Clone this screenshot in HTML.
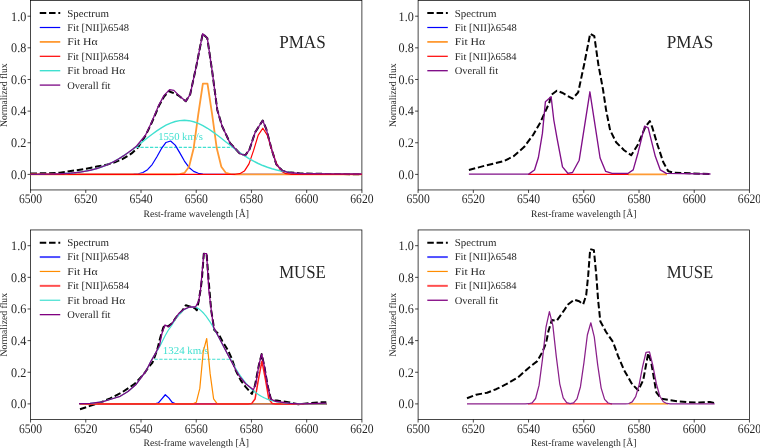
<!DOCTYPE html>
<html><head><meta charset="utf-8"><style>html,body{margin:0;padding:0;background:#fff;overflow:hidden}svg{display:block;will-change:transform;text-rendering:geometricPrecision}</style></head>
<body><svg width="760" height="448" viewBox="0 0 760 448">
<rect width="760" height="448" fill="#fff"/>
<g stroke="#000" stroke-width="0.72"><line x1="27.55" y1="174.40" x2="30.55" y2="174.40"/><line x1="27.55" y1="142.76" x2="30.55" y2="142.76"/><line x1="27.55" y1="111.12" x2="30.55" y2="111.12"/><line x1="27.55" y1="79.48" x2="30.55" y2="79.48"/><line x1="27.55" y1="47.84" x2="30.55" y2="47.84"/><line x1="27.55" y1="16.20" x2="30.55" y2="16.20"/><line x1="30.55" y1="189.95" x2="30.55" y2="192.95"/><line x1="85.78" y1="189.95" x2="85.78" y2="192.95"/><line x1="141.00" y1="189.95" x2="141.00" y2="192.95"/><line x1="196.23" y1="189.95" x2="196.23" y2="192.95"/><line x1="251.45" y1="189.95" x2="251.45" y2="192.95"/><line x1="306.68" y1="189.95" x2="306.68" y2="192.95"/><line x1="361.90" y1="189.95" x2="361.90" y2="192.95"/><rect x="30.55" y="0.40" width="331.35" height="189.55" fill="none"/></g>
<g font-family="Liberation Serif" font-size="13.0" fill="#262626"><text x="26.25" y="178.70" text-anchor="end" textLength="15.2" lengthAdjust="spacingAndGlyphs">0.0</text><text x="26.25" y="147.06" text-anchor="end" textLength="15.2" lengthAdjust="spacingAndGlyphs">0.2</text><text x="26.25" y="115.42" text-anchor="end" textLength="15.2" lengthAdjust="spacingAndGlyphs">0.4</text><text x="26.25" y="83.78" text-anchor="end" textLength="15.2" lengthAdjust="spacingAndGlyphs">0.6</text><text x="26.25" y="52.14" text-anchor="end" textLength="15.2" lengthAdjust="spacingAndGlyphs">0.8</text><text x="26.25" y="20.50" text-anchor="end" textLength="15.2" lengthAdjust="spacingAndGlyphs">1.0</text><text x="30.55" y="203.35" text-anchor="middle" textLength="23.2" lengthAdjust="spacingAndGlyphs">6500</text><text x="85.78" y="203.35" text-anchor="middle" textLength="23.2" lengthAdjust="spacingAndGlyphs">6520</text><text x="141.00" y="203.35" text-anchor="middle" textLength="23.2" lengthAdjust="spacingAndGlyphs">6540</text><text x="196.23" y="203.35" text-anchor="middle" textLength="23.2" lengthAdjust="spacingAndGlyphs">6560</text><text x="251.45" y="203.35" text-anchor="middle" textLength="23.2" lengthAdjust="spacingAndGlyphs">6580</text><text x="306.68" y="203.35" text-anchor="middle" textLength="23.2" lengthAdjust="spacingAndGlyphs">6600</text><text x="361.90" y="203.35" text-anchor="middle" textLength="23.2" lengthAdjust="spacingAndGlyphs">6620</text></g>
<text font-family="Liberation Serif" font-size="10.0" fill="#262626" x="196.23" y="216.55" text-anchor="middle" textLength="105.5" lengthAdjust="spacingAndGlyphs">Rest-frame wavelength [Å]</text>
<text font-family="Liberation Serif" font-size="10.0" fill="#262626" transform="translate(7.05,95.18) rotate(-90)" x="0" y="0" text-anchor="middle" textLength="63.5" lengthAdjust="spacingAndGlyphs">Normalized flux</text>
<g stroke="#000" stroke-width="0.72"><line x1="415.10" y1="174.40" x2="418.10" y2="174.40"/><line x1="415.10" y1="142.76" x2="418.10" y2="142.76"/><line x1="415.10" y1="111.12" x2="418.10" y2="111.12"/><line x1="415.10" y1="79.48" x2="418.10" y2="79.48"/><line x1="415.10" y1="47.84" x2="418.10" y2="47.84"/><line x1="415.10" y1="16.20" x2="418.10" y2="16.20"/><line x1="418.10" y1="189.95" x2="418.10" y2="192.95"/><line x1="473.33" y1="189.95" x2="473.33" y2="192.95"/><line x1="528.55" y1="189.95" x2="528.55" y2="192.95"/><line x1="583.78" y1="189.95" x2="583.78" y2="192.95"/><line x1="639.00" y1="189.95" x2="639.00" y2="192.95"/><line x1="694.23" y1="189.95" x2="694.23" y2="192.95"/><line x1="749.45" y1="189.95" x2="749.45" y2="192.95"/><rect x="418.10" y="0.40" width="331.35" height="189.55" fill="none"/></g>
<g font-family="Liberation Serif" font-size="13.0" fill="#262626"><text x="413.80" y="178.70" text-anchor="end" textLength="15.2" lengthAdjust="spacingAndGlyphs">0.0</text><text x="413.80" y="147.06" text-anchor="end" textLength="15.2" lengthAdjust="spacingAndGlyphs">0.2</text><text x="413.80" y="115.42" text-anchor="end" textLength="15.2" lengthAdjust="spacingAndGlyphs">0.4</text><text x="413.80" y="83.78" text-anchor="end" textLength="15.2" lengthAdjust="spacingAndGlyphs">0.6</text><text x="413.80" y="52.14" text-anchor="end" textLength="15.2" lengthAdjust="spacingAndGlyphs">0.8</text><text x="413.80" y="20.50" text-anchor="end" textLength="15.2" lengthAdjust="spacingAndGlyphs">1.0</text><text x="418.10" y="203.35" text-anchor="middle" textLength="23.2" lengthAdjust="spacingAndGlyphs">6500</text><text x="473.33" y="203.35" text-anchor="middle" textLength="23.2" lengthAdjust="spacingAndGlyphs">6520</text><text x="528.55" y="203.35" text-anchor="middle" textLength="23.2" lengthAdjust="spacingAndGlyphs">6540</text><text x="583.78" y="203.35" text-anchor="middle" textLength="23.2" lengthAdjust="spacingAndGlyphs">6560</text><text x="639.00" y="203.35" text-anchor="middle" textLength="23.2" lengthAdjust="spacingAndGlyphs">6580</text><text x="694.23" y="203.35" text-anchor="middle" textLength="23.2" lengthAdjust="spacingAndGlyphs">6600</text><text x="749.45" y="203.35" text-anchor="middle" textLength="23.2" lengthAdjust="spacingAndGlyphs">6620</text></g>
<text font-family="Liberation Serif" font-size="10.0" fill="#262626" x="583.78" y="216.55" text-anchor="middle" textLength="105.5" lengthAdjust="spacingAndGlyphs">Rest-frame wavelength [Å]</text>
<text font-family="Liberation Serif" font-size="10.0" fill="#262626" transform="translate(395.70,95.18) rotate(-90)" x="0" y="0" text-anchor="middle" textLength="63.5" lengthAdjust="spacingAndGlyphs">Normalized flux</text>
<g stroke="#000" stroke-width="0.72"><line x1="27.55" y1="403.90" x2="30.55" y2="403.90"/><line x1="27.55" y1="372.26" x2="30.55" y2="372.26"/><line x1="27.55" y1="340.62" x2="30.55" y2="340.62"/><line x1="27.55" y1="308.98" x2="30.55" y2="308.98"/><line x1="27.55" y1="277.34" x2="30.55" y2="277.34"/><line x1="27.55" y1="245.70" x2="30.55" y2="245.70"/><line x1="30.55" y1="419.50" x2="30.55" y2="422.50"/><line x1="85.78" y1="419.50" x2="85.78" y2="422.50"/><line x1="141.00" y1="419.50" x2="141.00" y2="422.50"/><line x1="196.23" y1="419.50" x2="196.23" y2="422.50"/><line x1="251.45" y1="419.50" x2="251.45" y2="422.50"/><line x1="306.68" y1="419.50" x2="306.68" y2="422.50"/><line x1="361.90" y1="419.50" x2="361.90" y2="422.50"/><rect x="30.55" y="229.95" width="331.35" height="189.55" fill="none"/></g>
<g font-family="Liberation Serif" font-size="13.0" fill="#262626"><text x="26.25" y="408.20" text-anchor="end" textLength="15.2" lengthAdjust="spacingAndGlyphs">0.0</text><text x="26.25" y="376.56" text-anchor="end" textLength="15.2" lengthAdjust="spacingAndGlyphs">0.2</text><text x="26.25" y="344.92" text-anchor="end" textLength="15.2" lengthAdjust="spacingAndGlyphs">0.4</text><text x="26.25" y="313.28" text-anchor="end" textLength="15.2" lengthAdjust="spacingAndGlyphs">0.6</text><text x="26.25" y="281.64" text-anchor="end" textLength="15.2" lengthAdjust="spacingAndGlyphs">0.8</text><text x="26.25" y="250.00" text-anchor="end" textLength="15.2" lengthAdjust="spacingAndGlyphs">1.0</text><text x="30.55" y="432.90" text-anchor="middle" textLength="23.2" lengthAdjust="spacingAndGlyphs">6500</text><text x="85.78" y="432.90" text-anchor="middle" textLength="23.2" lengthAdjust="spacingAndGlyphs">6520</text><text x="141.00" y="432.90" text-anchor="middle" textLength="23.2" lengthAdjust="spacingAndGlyphs">6540</text><text x="196.23" y="432.90" text-anchor="middle" textLength="23.2" lengthAdjust="spacingAndGlyphs">6560</text><text x="251.45" y="432.90" text-anchor="middle" textLength="23.2" lengthAdjust="spacingAndGlyphs">6580</text><text x="306.68" y="432.90" text-anchor="middle" textLength="23.2" lengthAdjust="spacingAndGlyphs">6600</text><text x="361.90" y="432.90" text-anchor="middle" textLength="23.2" lengthAdjust="spacingAndGlyphs">6620</text></g>
<text font-family="Liberation Serif" font-size="10.0" fill="#262626" x="196.23" y="446.10" text-anchor="middle" textLength="105.5" lengthAdjust="spacingAndGlyphs">Rest-frame wavelength [Å]</text>
<text font-family="Liberation Serif" font-size="10.0" fill="#262626" transform="translate(7.05,324.73) rotate(-90)" x="0" y="0" text-anchor="middle" textLength="63.5" lengthAdjust="spacingAndGlyphs">Normalized flux</text>
<g stroke="#000" stroke-width="0.72"><line x1="415.10" y1="403.90" x2="418.10" y2="403.90"/><line x1="415.10" y1="372.26" x2="418.10" y2="372.26"/><line x1="415.10" y1="340.62" x2="418.10" y2="340.62"/><line x1="415.10" y1="308.98" x2="418.10" y2="308.98"/><line x1="415.10" y1="277.34" x2="418.10" y2="277.34"/><line x1="415.10" y1="245.70" x2="418.10" y2="245.70"/><line x1="418.10" y1="419.50" x2="418.10" y2="422.50"/><line x1="473.33" y1="419.50" x2="473.33" y2="422.50"/><line x1="528.55" y1="419.50" x2="528.55" y2="422.50"/><line x1="583.78" y1="419.50" x2="583.78" y2="422.50"/><line x1="639.00" y1="419.50" x2="639.00" y2="422.50"/><line x1="694.23" y1="419.50" x2="694.23" y2="422.50"/><line x1="749.45" y1="419.50" x2="749.45" y2="422.50"/><rect x="418.10" y="229.95" width="331.35" height="189.55" fill="none"/></g>
<g font-family="Liberation Serif" font-size="13.0" fill="#262626"><text x="413.80" y="408.20" text-anchor="end" textLength="15.2" lengthAdjust="spacingAndGlyphs">0.0</text><text x="413.80" y="376.56" text-anchor="end" textLength="15.2" lengthAdjust="spacingAndGlyphs">0.2</text><text x="413.80" y="344.92" text-anchor="end" textLength="15.2" lengthAdjust="spacingAndGlyphs">0.4</text><text x="413.80" y="313.28" text-anchor="end" textLength="15.2" lengthAdjust="spacingAndGlyphs">0.6</text><text x="413.80" y="281.64" text-anchor="end" textLength="15.2" lengthAdjust="spacingAndGlyphs">0.8</text><text x="413.80" y="250.00" text-anchor="end" textLength="15.2" lengthAdjust="spacingAndGlyphs">1.0</text><text x="418.10" y="432.90" text-anchor="middle" textLength="23.2" lengthAdjust="spacingAndGlyphs">6500</text><text x="473.33" y="432.90" text-anchor="middle" textLength="23.2" lengthAdjust="spacingAndGlyphs">6520</text><text x="528.55" y="432.90" text-anchor="middle" textLength="23.2" lengthAdjust="spacingAndGlyphs">6540</text><text x="583.78" y="432.90" text-anchor="middle" textLength="23.2" lengthAdjust="spacingAndGlyphs">6560</text><text x="639.00" y="432.90" text-anchor="middle" textLength="23.2" lengthAdjust="spacingAndGlyphs">6580</text><text x="694.23" y="432.90" text-anchor="middle" textLength="23.2" lengthAdjust="spacingAndGlyphs">6600</text><text x="749.45" y="432.90" text-anchor="middle" textLength="23.2" lengthAdjust="spacingAndGlyphs">6620</text></g>
<text font-family="Liberation Serif" font-size="10.0" fill="#262626" x="583.78" y="446.10" text-anchor="middle" textLength="105.5" lengthAdjust="spacingAndGlyphs">Rest-frame wavelength [Å]</text>
<text font-family="Liberation Serif" font-size="10.0" fill="#262626" transform="translate(395.70,324.73) rotate(-90)" x="0" y="0" text-anchor="middle" textLength="63.5" lengthAdjust="spacingAndGlyphs">Normalized flux</text>
<polyline points="30.50,173.50 45.00,173.30 60.00,172.80 65.30,171.90 75.80,170.30 86.30,168.70 96.80,166.60 107.40,164.50 114.70,162.40 123.20,158.70 131.60,153.40 137.90,147.60 145.60,135.50 151.80,122.50 159.10,105.50 164.10,96.50 169.00,91.00 171.40,92.30 176.30,94.10 178.20,95.30 185.80,101.30 190.20,94.30 196.30,66.20 202.70,33.70 207.30,38.10 212.30,72.20 217.30,110.00 222.10,126.10 230.10,143.20 240.20,153.90 245.20,155.30 249.20,150.20 255.20,132.20 262.70,120.50 266.30,129.20 271.30,148.20 276.30,164.30 282.30,170.70 288.40,172.30 300.00,173.40 330.00,174.00 361.60,174.20" fill="none" stroke="#000" stroke-width="2.0" stroke-linejoin="round" stroke-dasharray="6.5 2.8"/>
<line x1="135.6" y1="147.4" x2="232.1" y2="147.4" stroke="#40e0d0" stroke-width="1.1" stroke-dasharray="3.3 1.5"/>
<text font-family="Liberation Serif" font-size="10.5" fill="#40e0d0" x="158.2" y="139.7" textLength="44.6" lengthAdjust="spacingAndGlyphs">1550 km/s</text>
<polyline points="30.55,174.40 32.26,174.40 36.87,174.40 41.48,174.40 46.10,174.40 50.71,174.40 55.32,174.40 59.93,174.40 64.54,174.40 69.15,174.40 73.76,174.40 78.37,174.40 82.99,174.40 87.60,174.40 92.21,174.40 96.82,174.40 101.43,174.40 106.04,174.40 110.65,174.40 115.27,174.40 119.88,174.40 124.49,174.39 129.10,174.36 133.71,174.22 138.32,173.77 142.93,172.52 147.54,169.70 152.16,164.54 156.77,157.04 161.38,148.71 165.99,142.46 170.60,141.05 175.21,145.14 179.82,152.84 184.43,161.05 189.05,167.46 193.66,171.37 198.27,173.29 202.88,174.06 207.49,174.31 212.10,174.38 216.71,174.40 221.32,174.40 225.94,174.40 230.55,174.40 235.16,174.40 239.77,174.40 244.38,174.40 248.99,174.40 253.60,174.40 258.22,174.40 262.83,174.40 267.44,174.40 272.05,174.40 276.66,174.40 281.27,174.40 285.88,174.40 290.49,174.40 295.11,174.40 299.72,174.40 304.33,174.40 308.94,174.40 313.55,174.40 318.16,174.40 322.77,174.40 327.38,174.40 332.00,174.40 336.61,174.40 341.22,174.40 345.83,174.40 350.44,174.40 355.05,174.40 359.66,174.40 361.90,174.40" fill="none" stroke="#0000ff" stroke-width="1.2" stroke-linejoin="round" />
<polyline points="30.55,174.40 32.26,174.40 36.87,174.40 41.48,174.40 46.10,174.40 50.71,174.40 55.32,174.40 59.93,174.40 64.54,174.40 69.15,174.40 73.76,174.40 78.37,174.40 82.99,174.40 87.60,174.40 92.21,174.40 96.82,174.40 101.43,174.40 106.04,174.40 110.65,174.40 115.27,174.40 119.88,174.40 124.49,174.40 129.10,174.40 133.71,174.40 138.32,174.40 142.93,174.40 147.54,174.40 152.16,174.40 156.77,174.40 161.38,174.40 165.99,174.40 170.60,174.40 175.21,174.38 179.82,174.21 184.43,172.94 189.05,166.80 193.66,148.16 198.27,114.44 202.88,83.71 207.49,83.59 212.10,114.22 216.71,148.00 221.32,166.73 225.94,172.93 230.55,174.21 235.16,174.38 239.77,174.40 244.38,174.40 248.99,174.40 253.60,174.40 258.22,174.40 262.83,174.40 267.44,174.40 272.05,174.40 276.66,174.40 281.27,174.40 285.88,174.40 290.49,174.40 295.11,174.40 299.72,174.40 304.33,174.40 308.94,174.40 313.55,174.40 318.16,174.40 322.77,174.40 327.38,174.40 332.00,174.40 336.61,174.40 341.22,174.40 345.83,174.40 350.44,174.40 355.05,174.40 359.66,174.40 361.90,174.40" fill="none" stroke="#ff9a33" stroke-width="1.8" stroke-linejoin="round" />
<polyline points="30.55,174.40 32.26,174.40 36.87,174.40 41.48,174.40 46.10,174.40 50.71,174.40 55.32,174.40 59.93,174.40 64.54,174.40 69.15,174.40 73.76,174.40 78.37,174.40 82.99,174.40 87.60,174.40 92.21,174.40 96.82,174.40 101.43,174.40 106.04,174.40 110.65,174.40 115.27,174.40 119.88,174.40 124.49,174.40 129.10,174.40 133.71,174.40 138.32,174.40 142.93,174.40 147.54,174.40 152.16,174.40 156.77,174.40 161.38,174.40 165.99,174.40 170.60,174.40 175.21,174.40 179.82,174.40 184.43,174.40 189.05,174.40 193.66,174.40 198.27,174.40 202.88,174.40 207.49,174.40 212.10,174.40 216.71,174.40 221.32,174.40 225.94,174.40 230.55,174.39 235.16,174.28 239.77,173.65 244.38,171.09 248.99,163.89 253.60,150.41 258.22,135.11 262.83,128.21 267.44,135.42 272.05,150.79 276.66,164.14 281.27,171.20 285.88,173.68 290.49,174.28 295.11,174.39 299.72,174.40 304.33,174.40 308.94,174.40 313.55,174.40 318.16,174.40 322.77,174.40 327.38,174.40 332.00,174.40 336.61,174.40 341.22,174.40 345.83,174.40 350.44,174.40 355.05,174.40 359.66,174.40 361.90,174.40" fill="none" stroke="#ff0000" stroke-width="1.2" stroke-linejoin="round" />
<polyline points="64.54,173.56 69.15,173.25 73.76,172.84 78.37,172.32 82.99,171.65 87.60,170.81 92.21,169.78 96.82,168.52 101.43,167.01 106.04,165.23 110.65,163.16 115.27,160.79 119.88,158.12 124.49,155.18 129.10,151.98 133.71,148.57 138.32,145.01 142.93,141.37 147.54,137.73 152.16,134.20 156.77,130.87 161.38,127.84 165.99,125.22 170.60,123.08 175.21,121.52 179.82,120.58 184.43,120.30 189.05,120.68 193.66,121.72 198.27,123.38 202.88,125.59 207.49,128.29 212.10,131.37 216.71,134.74 221.32,138.29 225.94,141.93 230.55,145.57 235.16,149.11 239.77,152.49 244.38,155.65 248.99,158.56 253.60,161.18 258.22,163.50 262.83,165.52 267.44,167.26 272.05,168.73 276.66,169.95 281.27,170.95 285.88,171.76 290.49,172.41" fill="none" stroke="#40e0d0" stroke-width="1.4" stroke-linejoin="round" />
<polyline points="30.55,174.34 31.93,174.34 33.31,174.33 34.69,174.32 36.07,174.31 37.45,174.30 38.83,174.28 40.21,174.27 41.59,174.25 42.98,174.24 44.36,174.22 45.74,174.20 47.12,174.17 48.50,174.14 49.88,174.12 51.26,174.08 52.64,174.05 54.02,174.01 55.40,173.97 56.78,173.92 58.16,173.87 59.54,173.81 60.92,173.75 62.30,173.68 63.69,173.61 65.07,173.53 66.45,173.44 67.83,173.35 69.21,173.24 70.59,173.13 71.97,173.01 73.35,172.88 74.73,172.74 76.11,172.59 77.49,172.43 78.87,172.25 80.25,172.06 81.63,171.86 83.01,171.64 84.39,171.41 85.78,171.16 87.16,170.90 88.54,170.62 89.92,170.32 91.30,170.00 92.68,169.66 94.06,169.30 95.44,168.92 96.82,168.52 98.20,168.09 99.58,167.65 100.96,167.17 102.34,166.68 103.72,166.16 105.10,165.61 106.48,165.04 107.86,164.44 109.25,163.82 110.63,163.17 112.01,162.49 113.39,161.79 114.77,161.06 116.15,160.30 117.53,159.52 118.91,158.71 120.29,157.87 121.67,157.01 123.05,156.12 124.43,155.21 125.81,154.27 127.19,153.31 128.57,152.32 129.96,151.30 131.34,150.26 132.72,149.19 134.10,148.07 135.48,146.92 136.86,145.72 145.60,135.00 151.80,121.80 159.10,104.60 164.10,95.40 169.60,89.60 173.90,90.40 178.80,95.40 185.80,101.30 190.20,94.30 196.30,66.20 202.70,33.70 207.30,38.10 212.30,72.20 217.30,110.00 222.10,126.10 230.10,143.20 240.20,153.90 245.20,155.30 249.20,150.20 255.20,132.20 262.70,120.50 266.30,129.20 271.30,148.20 276.30,164.30 282.30,170.70 288.40,172.50 300.00,173.50 330.00,173.90 361.60,174.00" fill="none" stroke="#800f88" stroke-width="1.35" stroke-linejoin="round" />
<polyline points="468.90,170.00 486.80,165.20 503.75,161.10 513.60,156.25 524.30,146.80 533.20,134.80 540.40,122.30 545.70,110.70 549.30,102.70 551.10,95.00 556.80,90.70 562.10,92.70 572.60,98.70 578.20,92.30 584.20,64.20 590.20,33.70 594.30,36.10 598.30,64.20 603.10,90.00 606.10,110.10 610.10,130.20 616.10,142.20 624.10,150.20 631.20,155.30 638.20,144.20 645.20,127.10 649.80,121.10 652.20,127.10 657.30,144.20 663.30,162.30 668.30,171.30 674.30,172.70 690.00,173.30 710.50,174.00" fill="none" stroke="#000" stroke-width="2.0" stroke-linejoin="round" stroke-dasharray="6.5 2.8"/>
<polyline points="628.00,174.30 667.00,174.30" fill="none" stroke="#ff9a33" stroke-width="1.8" stroke-linejoin="round" />
<polyline points="528.00,174.30 628.50,174.30" fill="none" stroke="#ff0000" stroke-width="1.2" stroke-linejoin="round" />
<polyline points="468.90,174.10 528.75,174.10 534.50,170.00 538.40,157.50 542.40,133.40 545.40,101.70 551.10,96.70 553.80,120.00 557.10,138.70 562.50,166.90 567.80,173.30 572.50,172.50 579.20,160.20 589.90,91.80 600.10,158.00 605.70,171.40 612.10,173.30 628.20,173.30 633.20,169.90 638.20,152.20 644.60,126.10 648.20,127.80 655.30,156.30 660.30,169.90 666.30,173.30 710.50,174.00" fill="none" stroke="#800f88" stroke-width="1.35" stroke-linejoin="round" />
<polyline points="80.00,409.30 90.10,405.90 100.10,402.70 110.20,398.30 122.20,392.20 134.30,384.20 144.30,373.50 148.00,368.00 152.50,362.50 157.20,350.00 160.30,337.50 163.40,327.30 165.80,325.00 168.10,326.40 172.10,323.40 176.10,317.40 182.80,310.00 185.80,305.20 190.40,306.60 195.00,308.40 196.80,310.30 198.70,301.10 200.50,290.00 201.80,280.20 203.80,253.70 206.60,253.70 208.60,280.20 211.20,310.30 214.30,330.00 218.40,333.80 222.40,341.20 227.80,350.00 231.80,358.60 235.80,370.50 240.90,380.60 245.60,386.90 251.90,393.90 255.00,385.30 258.90,365.00 261.70,354.10 264.40,366.60 267.50,385.30 270.90,399.10 272.20,400.20 276.90,400.60 290.00,402.50 298.20,404.30 310.00,403.00 320.30,402.30 326.30,402.30" fill="none" stroke="#000" stroke-width="2.0" stroke-linejoin="round" stroke-dasharray="6.5 2.8"/>
<line x1="154.5" y1="359.3" x2="232.1" y2="359.3" stroke="#40e0d0" stroke-width="1.1" stroke-dasharray="3.3 1.5"/>
<text font-family="Liberation Serif" font-size="10.5" fill="#40e0d0" x="162.8" y="353.7" textLength="45.8" lengthAdjust="spacingAndGlyphs">1324 km/s</text>
<polyline points="79.56,403.90 82.46,403.90 85.91,403.90 89.36,403.90 92.82,403.90 96.27,403.90 99.72,403.90 103.17,403.90 106.62,403.90 110.07,403.90 113.53,403.90 116.98,403.90 120.43,403.90 123.88,403.90 127.33,403.90 130.78,403.90 134.23,403.90 137.69,403.90 141.14,403.90 144.59,403.90 148.04,403.90 151.49,403.90 154.94,403.82 158.40,402.85 161.85,398.78 165.30,394.75 168.75,397.89 172.20,402.45 175.65,403.77 179.11,403.90 182.56,403.90 186.01,403.90 189.46,403.90 192.91,403.90 196.36,403.90 199.81,403.90 203.27,403.90 206.72,403.90 210.17,403.90 213.62,403.90 217.07,403.90 220.52,403.90 223.98,403.90 227.43,403.90 230.88,403.90 234.33,403.90 237.78,403.90 241.23,403.90 244.68,403.90 248.14,403.90 251.59,403.90 255.04,403.90 258.49,403.90 261.94,403.90 265.39,403.90 268.85,403.90 272.30,403.90 275.75,403.90 279.20,403.90 282.65,403.90 286.10,403.90 289.56,403.90 293.01,403.90 296.46,403.90 299.91,403.90 303.36,403.90 306.81,403.90 310.26,403.90 313.72,403.90 317.17,403.90 320.62,403.90 324.07,403.90 326.83,403.90" fill="none" stroke="#0000ff" stroke-width="1.25" stroke-linejoin="round" />
<polyline points="79.56,403.90 82.46,403.90 85.91,403.90 89.36,403.90 92.82,403.90 96.27,403.90 99.72,403.90 103.17,403.90 106.62,403.90 110.07,403.90 113.53,403.90 116.98,403.90 120.43,403.90 123.88,403.90 127.33,403.90 130.78,403.90 134.23,403.90 137.69,403.90 141.14,403.90 144.59,403.90 148.04,403.90 151.49,403.90 154.94,403.90 158.40,403.90 161.85,403.90 165.30,403.90 168.75,403.90 172.20,403.90 175.65,403.90 179.11,403.90 182.56,403.90 186.01,403.90 189.46,403.90 192.91,403.83 196.36,402.22 199.81,388.40 203.27,351.41 206.72,338.49 210.17,373.92 213.62,398.84 217.07,403.59 220.52,403.89 223.98,403.90 227.43,403.90 230.88,403.90 234.33,403.90 237.78,403.90 241.23,403.90 244.68,403.90 248.14,403.90 251.59,403.90 255.04,403.90 258.49,403.90 261.94,403.90 265.39,403.90 268.85,403.90 272.30,403.90 275.75,403.90 279.20,403.90 282.65,403.90 286.10,403.90 289.56,403.90 293.01,403.90 296.46,403.90 299.91,403.90 303.36,403.90 306.81,403.90 310.26,403.90 313.72,403.90 317.17,403.90 320.62,403.90 324.07,403.90 326.83,403.90" fill="none" stroke="#ff8c00" stroke-width="1.2" stroke-linejoin="round" />
<polyline points="79.56,403.90 82.46,403.90 85.91,403.90 89.36,403.90 92.82,403.90 96.27,403.90 99.72,403.90 103.17,403.90 106.62,403.90 110.07,403.90 113.53,403.90 116.98,403.90 120.43,403.90 123.88,403.90 127.33,403.90 130.78,403.90 134.23,403.90 137.69,403.90 141.14,403.90 144.59,403.90 148.04,403.90 151.49,403.90 154.94,403.90 158.40,403.90 161.85,403.90 165.30,403.90 168.75,403.90 172.20,403.90 175.65,403.90 179.11,403.90 182.56,403.90 186.01,403.90 189.46,403.90 192.91,403.90 196.36,403.90 199.81,403.90 203.27,403.90 206.72,403.90 210.17,403.90 213.62,403.90 217.07,403.90 220.52,403.90 223.98,403.90 227.43,403.90 230.88,403.90 234.33,403.90 237.78,403.90 241.23,403.90 244.68,403.90 248.14,403.89 251.59,403.58 255.04,399.02 258.49,379.07 261.94,361.19 265.39,379.07 268.85,399.02 272.30,403.58 275.75,403.89 279.20,403.90 282.65,403.90 286.10,403.90 289.56,403.90 293.01,403.90 296.46,403.90 299.91,403.90 303.36,403.90 306.81,403.90 310.26,403.90 313.72,403.90 317.17,403.90 320.62,403.90 324.07,403.90 326.83,403.90" fill="none" stroke="#ff1a1a" stroke-width="1.5" stroke-linejoin="round" />
<polyline points="79.00,403.70 90.00,403.30 102.10,401.90 110.00,399.50 120.20,396.30 128.00,391.50 136.30,384.20 146.30,370.50 150.50,362.00 155.60,353.10 159.50,346.90 165.00,336.00 168.10,330.50 172.00,325.00 176.10,318.00 182.80,310.50 189.50,307.00 195.50,307.20 197.61,308.17 198.30,308.59 198.99,309.04 199.68,309.55 200.37,310.10 201.06,310.69 201.75,311.33 202.44,312.00 203.13,312.72 203.82,313.48 204.51,314.28 205.20,315.12 205.89,315.99 206.58,316.90 207.27,317.85 207.96,318.82 208.65,319.83 209.34,320.87 210.03,321.94 210.72,323.03 211.41,324.15 212.10,325.30 212.79,326.46 213.48,327.65 214.17,328.86 214.86,330.09 215.55,331.33 216.24,332.59 216.93,333.86 217.62,335.15 218.31,336.44 219.01,337.75 219.70,339.06 220.39,340.38 221.08,341.70 221.77,343.03 222.46,344.36 223.15,345.69 223.84,347.01 224.53,348.34 225.22,349.66 225.91,350.98 226.60,352.29 227.29,353.60 227.98,354.90 228.67,356.18 229.36,357.46 230.05,358.73 230.74,359.98 231.43,361.22 232.12,362.45 232.81,363.66 233.50,364.86 234.19,366.04 234.88,367.20 235.57,368.35 236.26,369.47 236.95,370.58 237.64,371.67 238.33,372.74 239.02,373.79 239.71,374.82 240.41,375.82 241.10,376.81 241.79,377.77 242.48,378.72 243.17,379.64 243.86,380.54 244.55,381.42 245.24,382.27 245.93,383.11 246.62,383.92 247.31,384.71 248.00,385.48 248.69,386.22 249.38,386.95 250.07,387.65 250.76,388.33 251.45,388.99 252.14,389.63 252.83,390.25 253.52,390.85 254.21,391.43 254.90,391.99 255.59,392.53 256.28,393.05 256.97,393.55 257.66,394.04 258.35,394.50 259.04,394.95 259.73,395.38 260.42,395.80 261.11,396.20 261.80,396.58 262.50,396.95 263.19,397.30 263.88,397.64 264.57,397.96 265.26,398.27 265.95,398.57 266.64,398.85 267.33,399.12 268.02,399.38 268.71,399.63 269.40,399.86 270.09,400.08 270.78,400.30 271.47,400.50 272.16,400.69 272.85,400.88 273.54,401.05 274.23,401.22 274.92,401.38 275.61,401.53 276.30,401.67 276.99,401.80 277.68,401.93 278.37,402.05 279.06,402.16 279.75,402.27 280.44,402.37 281.13,402.47 281.82,402.56 282.51,402.65 283.20,402.73 283.89,402.80 284.58,402.88 285.28,402.94 285.97,403.01 286.66,403.07 287.35,403.12 288.04,403.18 288.73,403.23 289.42,403.27 290.11,403.32 290.80,403.36 291.49,403.39 292.18,403.43 292.87,403.46 293.56,403.49 294.25,403.52 294.94,403.55 295.63,403.58 296.32,403.60 297.01,403.62 297.70,403.64 298.39,403.66 299.08,403.68 299.77,403.70 300.46,403.71 301.15,403.73 301.84,403.74 302.53,403.75 303.22,403.76 303.91,403.77 304.60,403.78 305.29,403.79 305.98,403.80 306.68,403.81 307.37,403.82 308.06,403.82 308.75,403.83 309.44,403.84 310.13,403.84 310.82,403.85 311.51,403.85 312.20,403.86 312.89,403.86 313.58,403.86 314.27,403.87 314.96,403.87 315.65,403.87 316.34,403.87 317.03,403.88 317.72,403.88 318.41,403.88 319.10,403.88 319.79,403.88 320.48,403.88 321.17,403.89 321.86,403.89 322.55,403.89 323.24,403.89 323.93,403.89 324.62,403.89 325.31,403.89 326.00,403.89 326.69,403.89" fill="none" stroke="#40e0d0" stroke-width="1.2" stroke-linejoin="round" />
<polyline points="79.00,403.70 90.00,403.30 102.10,401.90 110.00,399.50 120.20,396.30 128.00,391.50 136.30,384.20 146.30,370.50 150.50,362.00 155.60,353.10 159.50,345.30 161.90,333.60 165.00,325.00 168.90,326.60 172.00,323.40 176.10,317.40 178.70,313.50 184.00,309.30 189.50,307.00 195.50,307.00 198.70,301.10 200.50,290.00 203.80,253.70 206.60,253.70 208.80,290.00 211.60,313.00 213.70,327.40 218.30,336.30 224.00,347.20 230.00,358.80 235.80,370.00 239.40,376.20 245.60,383.75 253.40,389.70 255.80,383.75 258.90,365.00 261.70,354.10 264.40,366.60 267.50,385.30 270.90,399.10 275.30,401.25 290.00,403.30 300.00,403.90 326.30,403.10" fill="none" stroke="#800080" stroke-width="1.3" stroke-linejoin="round" />
<polyline points="467.00,398.30 476.10,394.70 487.10,392.70 496.10,389.20 506.20,384.20 518.20,377.20 528.30,368.20 537.30,361.10 542.30,352.10 544.50,346.90 546.30,342.00 548.40,331.30 551.80,320.10 556.80,320.60 563.50,311.20 568.00,304.50 574.20,299.70 579.20,301.30 583.20,304.30 586.20,295.20 588.20,275.20 590.20,249.10 593.90,250.10 596.30,275.20 598.10,300.00 600.30,321.20 606.10,332.00 613.10,342.10 618.10,356.10 624.10,370.20 632.20,384.30 638.20,390.30 643.20,380.20 648.20,353.10 651.20,362.20 656.30,392.30 661.30,398.70 670.30,400.30 677.80,401.30 688.40,402.30 699.10,402.50 709.80,401.90 714.50,403.10" fill="none" stroke="#000" stroke-width="2.0" stroke-linejoin="round" stroke-dasharray="6.5 2.8"/>
<polyline points="629.00,403.80 668.00,403.80" fill="none" stroke="#ff8c00" stroke-width="1.3" stroke-linejoin="round" />
<polyline points="528.00,403.80 612.00,403.80" fill="none" stroke="#ff1a1a" stroke-width="1.3" stroke-linejoin="round" />
<polyline points="466.97,403.90 470.01,403.90 473.46,403.90 476.91,403.90 480.37,403.90 483.82,403.90 487.27,403.90 490.72,403.90 494.17,403.90 497.62,403.90 501.08,403.90 504.53,403.90 507.98,403.90 511.43,403.90 514.88,403.90 518.33,403.90 521.78,403.90 525.24,403.88 528.69,403.74 532.14,402.79 535.59,398.50 539.04,385.40 542.49,359.16 545.95,327.48 549.40,311.70 552.85,325.32 556.30,356.60 559.75,383.79 563.20,397.86 566.66,402.60 570.11,403.56 573.56,402.84 577.01,398.85 580.46,386.71 583.91,362.81 587.36,334.97 590.82,322.77 594.27,336.89 597.72,365.07 601.17,388.11 604.62,399.40 608.07,403.00 611.53,403.77 614.98,403.89 618.43,403.90 621.88,403.89 625.33,403.84 628.78,403.51 632.23,401.91 635.69,396.60 639.14,384.55 642.59,366.75 646.04,352.26 649.49,351.92 652.94,366.02 656.40,383.91 659.85,396.26 663.30,401.79 666.75,403.48 670.20,403.84 673.65,403.89 677.11,403.90 680.56,403.90 684.01,403.90 687.46,403.90 690.91,403.90 694.36,403.90 697.81,403.90 701.27,403.90 704.72,403.90 708.17,403.90 711.62,403.90 714.66,403.90" fill="none" stroke="#8a1f8a" stroke-width="1.25" stroke-linejoin="round" />
<line x1="39.75" y1="13.10" x2="60.25" y2="13.10" stroke="#000" stroke-width="2" stroke-dasharray="6.5 2.8"/>
<text font-family="Liberation Serif" font-size="10.4" fill="#262626" x="67.15" y="16.50" textLength="41.8" lengthAdjust="spacingAndGlyphs">Spectrum</text>
<line x1="39.75" y1="27.50" x2="60.25" y2="27.50" stroke="#0000ff" stroke-width="1.2"/>
<text font-family="Liberation Serif" font-size="10.4" fill="#262626" x="67.15" y="30.90" textLength="62" lengthAdjust="spacingAndGlyphs">Fit [NII]λ6548</text>
<line x1="39.75" y1="41.90" x2="60.25" y2="41.90" stroke="#ff9a33" stroke-width="1.8"/>
<text font-family="Liberation Serif" font-size="10.4" fill="#262626" x="67.15" y="45.30" textLength="30.5" lengthAdjust="spacingAndGlyphs">Fit Hα</text>
<line x1="39.75" y1="56.30" x2="60.25" y2="56.30" stroke="#ff0000" stroke-width="1.2"/>
<text font-family="Liberation Serif" font-size="10.4" fill="#262626" x="67.15" y="59.70" textLength="61.8" lengthAdjust="spacingAndGlyphs">Fit [NII]λ6584</text>
<line x1="39.75" y1="70.70" x2="60.25" y2="70.70" stroke="#40e0d0" stroke-width="1.4"/>
<text font-family="Liberation Serif" font-size="10.4" fill="#262626" x="67.15" y="74.10" textLength="57.9" lengthAdjust="spacingAndGlyphs">Fit broad Hα</text>
<line x1="39.75" y1="85.10" x2="60.25" y2="85.10" stroke="#800f88" stroke-width="1.35"/>
<text font-family="Liberation Serif" font-size="10.4" fill="#262626" x="67.15" y="88.50" textLength="43.4" lengthAdjust="spacingAndGlyphs">Overall fit</text>
<line x1="427.30" y1="13.10" x2="447.80" y2="13.10" stroke="#000" stroke-width="2" stroke-dasharray="6.5 2.8"/>
<text font-family="Liberation Serif" font-size="10.4" fill="#262626" x="454.70" y="16.50" textLength="41.8" lengthAdjust="spacingAndGlyphs">Spectrum</text>
<line x1="427.30" y1="27.50" x2="447.80" y2="27.50" stroke="#0000ff" stroke-width="1.2"/>
<text font-family="Liberation Serif" font-size="10.4" fill="#262626" x="454.70" y="30.90" textLength="62" lengthAdjust="spacingAndGlyphs">Fit [NII]λ6548</text>
<line x1="427.30" y1="41.90" x2="447.80" y2="41.90" stroke="#ff9a33" stroke-width="1.8"/>
<text font-family="Liberation Serif" font-size="10.4" fill="#262626" x="454.70" y="45.30" textLength="30.5" lengthAdjust="spacingAndGlyphs">Fit Hα</text>
<line x1="427.30" y1="56.30" x2="447.80" y2="56.30" stroke="#ff0000" stroke-width="1.2"/>
<text font-family="Liberation Serif" font-size="10.4" fill="#262626" x="454.70" y="59.70" textLength="61.8" lengthAdjust="spacingAndGlyphs">Fit [NII]λ6584</text>
<line x1="427.30" y1="70.70" x2="447.80" y2="70.70" stroke="#800f88" stroke-width="1.35"/>
<text font-family="Liberation Serif" font-size="10.4" fill="#262626" x="454.70" y="74.10" textLength="43.4" lengthAdjust="spacingAndGlyphs">Overall fit</text>
<line x1="39.75" y1="242.65" x2="60.25" y2="242.65" stroke="#000" stroke-width="2" stroke-dasharray="6.5 2.8"/>
<text font-family="Liberation Serif" font-size="10.4" fill="#262626" x="67.15" y="246.05" textLength="41.8" lengthAdjust="spacingAndGlyphs">Spectrum</text>
<line x1="39.75" y1="257.05" x2="60.25" y2="257.05" stroke="#5050ff" stroke-width="2.0"/>
<text font-family="Liberation Serif" font-size="10.4" fill="#262626" x="67.15" y="260.45" textLength="62" lengthAdjust="spacingAndGlyphs">Fit [NII]λ6548</text>
<line x1="39.75" y1="271.45" x2="60.25" y2="271.45" stroke="#ff8c00" stroke-width="1.2"/>
<text font-family="Liberation Serif" font-size="10.4" fill="#262626" x="67.15" y="274.85" textLength="30.5" lengthAdjust="spacingAndGlyphs">Fit Hα</text>
<line x1="39.75" y1="285.85" x2="60.25" y2="285.85" stroke="#ff5050" stroke-width="2.0"/>
<text font-family="Liberation Serif" font-size="10.4" fill="#262626" x="67.15" y="289.25" textLength="61.8" lengthAdjust="spacingAndGlyphs">Fit [NII]λ6584</text>
<line x1="39.75" y1="300.25" x2="60.25" y2="300.25" stroke="#40e0d0" stroke-width="1.2"/>
<text font-family="Liberation Serif" font-size="10.4" fill="#262626" x="67.15" y="303.65" textLength="57.9" lengthAdjust="spacingAndGlyphs">Fit broad Hα</text>
<line x1="39.75" y1="314.65" x2="60.25" y2="314.65" stroke="#800080" stroke-width="1.3"/>
<text font-family="Liberation Serif" font-size="10.4" fill="#262626" x="67.15" y="318.05" textLength="43.4" lengthAdjust="spacingAndGlyphs">Overall fit</text>
<line x1="427.30" y1="242.65" x2="447.80" y2="242.65" stroke="#000" stroke-width="2" stroke-dasharray="6.5 2.8"/>
<text font-family="Liberation Serif" font-size="10.4" fill="#262626" x="454.70" y="246.05" textLength="41.8" lengthAdjust="spacingAndGlyphs">Spectrum</text>
<line x1="427.30" y1="257.05" x2="447.80" y2="257.05" stroke="#5050ff" stroke-width="2.0"/>
<text font-family="Liberation Serif" font-size="10.4" fill="#262626" x="454.70" y="260.45" textLength="62" lengthAdjust="spacingAndGlyphs">Fit [NII]λ6548</text>
<line x1="427.30" y1="271.45" x2="447.80" y2="271.45" stroke="#ff8c00" stroke-width="1.2"/>
<text font-family="Liberation Serif" font-size="10.4" fill="#262626" x="454.70" y="274.85" textLength="30.5" lengthAdjust="spacingAndGlyphs">Fit Hα</text>
<line x1="427.30" y1="285.85" x2="447.80" y2="285.85" stroke="#ff5050" stroke-width="2.0"/>
<text font-family="Liberation Serif" font-size="10.4" fill="#262626" x="454.70" y="289.25" textLength="61.8" lengthAdjust="spacingAndGlyphs">Fit [NII]λ6584</text>
<line x1="427.30" y1="300.25" x2="447.80" y2="300.25" stroke="#800080" stroke-width="1.3"/>
<text font-family="Liberation Serif" font-size="10.4" fill="#262626" x="454.70" y="303.65" textLength="43.4" lengthAdjust="spacingAndGlyphs">Overall fit</text>
<text font-family="Liberation Serif" font-size="18.4" fill="#262626" x="279.15" y="48.00" textLength="46.6" lengthAdjust="spacingAndGlyphs">PMAS</text>
<text font-family="Liberation Serif" font-size="18.4" fill="#262626" x="666.70" y="48.00" textLength="46.6" lengthAdjust="spacingAndGlyphs">PMAS</text>
<text font-family="Liberation Serif" font-size="18.4" fill="#262626" x="279.15" y="277.55" textLength="46.6" lengthAdjust="spacingAndGlyphs">MUSE</text>
<text font-family="Liberation Serif" font-size="18.4" fill="#262626" x="666.70" y="277.55" textLength="46.6" lengthAdjust="spacingAndGlyphs">MUSE</text>
</svg></body></html>
